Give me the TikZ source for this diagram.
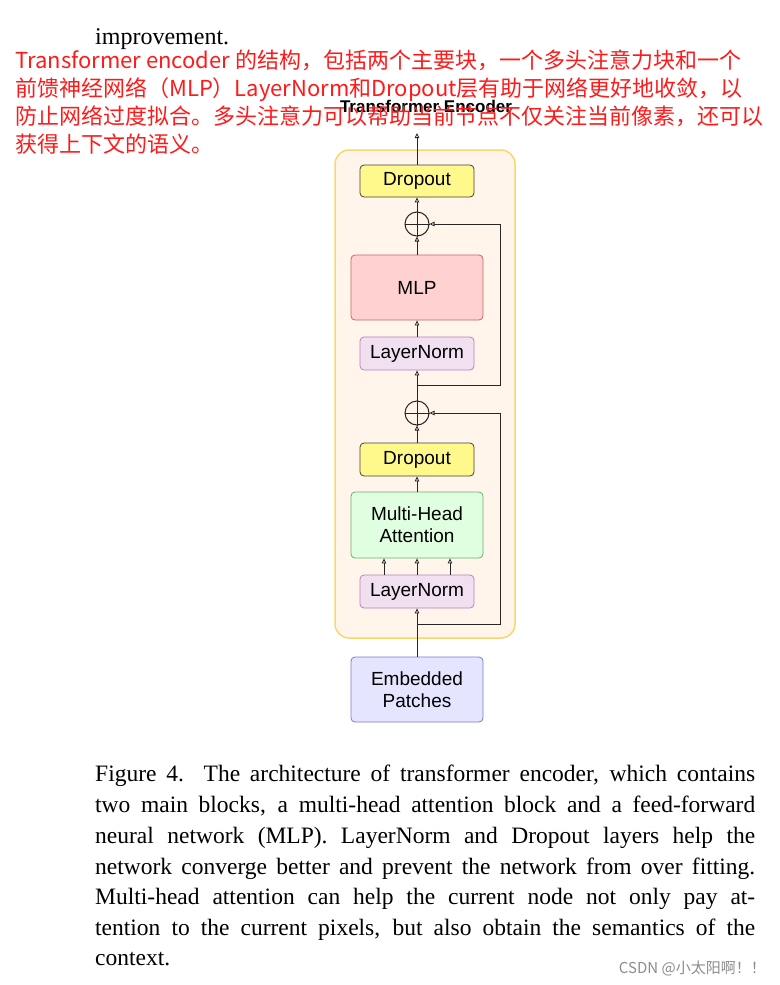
\documentclass[tikz,border=0pt]{standalone}
\usepackage{fontspec}
\setmainfont{Liberation Serif}
\newfontfamily\cjk{Noto Sans CJK SC}
\newfontfamily\lsans{Liberation Sans}
\usetikzlibrary{arrows.meta}
\definecolor{redt}{HTML}{FF1A1A}
\begin{document}
\begin{tikzpicture}[x=1pt,y=-1pt,
 box/.style={draw=#1,rounded corners=4pt,line width=0.8pt,font=\lsans\fontsize{19}{21}\selectfont,align=center},
 arr/.style={-{Triangle[open,length=5pt,width=4.5pt]},line width=0.8pt,draw=black!85},
 ln/.style={line width=0.8pt,draw=black!85},
 capl/.style={anchor=base west,inner sep=0,font=\fontsize{23.5}{27}\selectfont},
 redl/.style={anchor=base west,text=redt,font=\cjk\fontsize{22}{25}\selectfont,inner sep=0}]
\useasboundingbox (0,0) rectangle (779,985);
\node[anchor=base west,font=\fontsize{24}{28}\selectfont,inner sep=0] (imp) at (95,44) {improvement.};
% outer
\draw[draw=orange!40!yellow!80!brown!60,line width=1.5pt,fill=orange!8,rounded corners=14pt] (335,150) rectangle (515,638);
\node[font=\lsans\bfseries\fontsize{17}{19}\selectfont] (title) at (426,106) {Transformer Encoder};
\node[redl] (r1) at (15,68) {Transformer encoder 的结构，包括两个主要块，一个多头注意力块和一个};
\node[redl] (r2) at (15,96) {前馈神经网络（MLP）LayerNorm和Dropout层有助于网络更好地收敛，以};
\node[redl] (r3) at (15,124) {防止网络过度拟合。多头注意力可以帮助当前节点不仅关注当前像素，还可以};
\node[redl] (r4) at (15,152) {获得上下文的语义。};
% boxes
\node[box=black!75,fill=yellow!45,minimum width=114pt,minimum height=32pt] (d2) at (417,181) {Dropout};
\node[draw=black!85,line width=1pt,circle,minimum size=24pt,inner sep=0] (p2) at (417,224) {};
\draw[ln] (p2.north)--(p2.south) (p2.west)--(p2.east);
\node[box=red!60!black!60,fill=red!18,minimum width=132pt,minimum height=65pt] (mlp) at (417,287.5) {MLP};
\node[box=violet!50,fill=violet!12,minimum width=114pt,minimum height=33pt] (ln2) at (417,353.5) {LayerNorm};
\node[draw=black!85,line width=1pt,circle,minimum size=24pt,inner sep=0] (p1) at (417,413) {};
\draw[ln] (p1.north)--(p1.south) (p1.west)--(p1.east);
\node[box=black!75,fill=yellow!45,minimum width=114pt,minimum height=33pt] (d1) at (417,459.5) {Dropout};
\node[box=green!50!black!60,fill=green!12,minimum width=132pt,minimum height=66pt] (mha) at (417,525) {Multi-Head\\[1pt]Attention};
\node[box=violet!50,fill=violet!12,minimum width=114pt,minimum height=33pt] (ln1) at (417,591.5) {LayerNorm};
\node[box=blue!50!gray!70,fill=blue!10,minimum width=132pt,minimum height=65pt] (emb) at (417,689.5) {Embedded\\[1pt]Patches};
\coordinate (top) at (417,133);
\coordinate (b1) at (417,624);
\coordinate (b1r) at (500,624);
\coordinate (b2) at (417,385);
\coordinate (b2r) at (500,385);
% connectors
\draw[arr] (emb.north)--(ln1.south);
\draw[arr] (b1)--(b1r)--(b1r|-p1)--(p1.east);
\foreach \dx in {-33,0,33} \draw[arr] ([xshift=\dx pt]ln1.north)--([xshift=\dx pt]mha.south);
\draw[arr] (mha.north)--(d1.south);
\draw[arr] (d1.north)--(p1.south);
\draw[arr] (p1.north)--(ln2.south);
\draw[arr] (b2)--(b2r)--(b2r|-p2)--(p2.east);
\draw[arr] (ln2.north)--(mlp.south);
\draw[arr] (mlp.north)--(p2.south);
\draw[arr] (p2.north)--(d2.south);
\draw[arr] (d2.north)--(top);
% caption
\node[capl] (c1) at (95,781) {\makebox[660pt][s]{Figure 4. The architecture of transformer encoder, which contains}};
\node[capl] (c2) at (95,812) {\makebox[660pt][s]{two main blocks, a multi-head attention block and a feed-forward}};
\node[capl] (c3) at (95,843) {\makebox[660pt][s]{neural network (MLP). LayerNorm and Dropout layers help the}};
\node[capl] (c4) at (95,874) {\makebox[660pt][s]{network converge better and prevent the network from over fitting.}};
\node[capl] (c5) at (95,904) {\makebox[660pt][s]{Multi-head attention can help the current node not only pay at-}};
\node[capl] (c6) at (95,935) {\makebox[660pt][s]{tention to the current pixels, but also obtain the semantics of the}};
\node[capl] (c7) at (95,965) {context.};
\node[anchor=base east,text=black!45,font=\cjk\fontsize{15}{17}\selectfont,inner sep=0] (wm) at (766,973) {CSDN @小太阳啊！！};
\end{tikzpicture}
\end{document}
